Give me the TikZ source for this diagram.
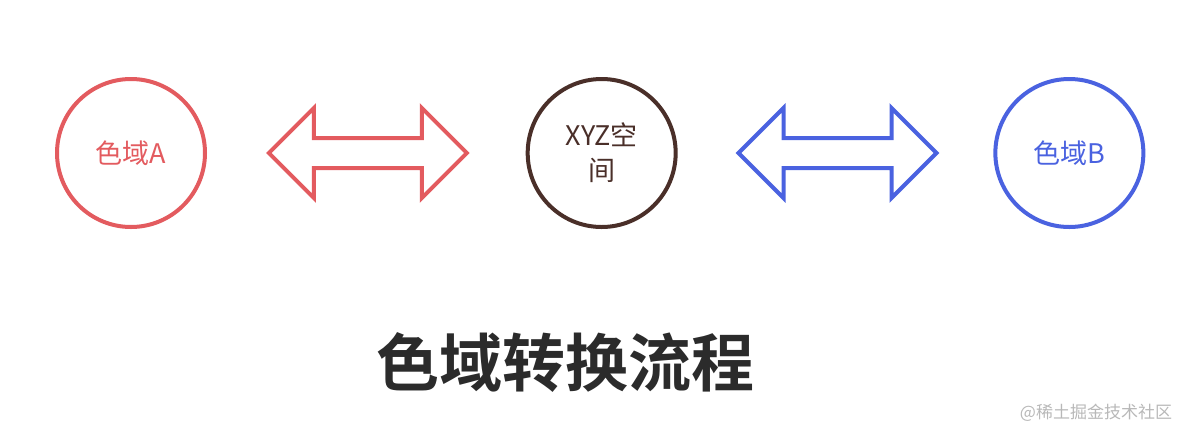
\documentclass[tikz,border=0pt]{standalone}
\usepackage{fontspec}
\newfontfamily\cjk[BoldFont={* Bold}]{Noto Sans CJK SC}
\usepackage{xcolor}
\usepackage{tikz}
\usetikzlibrary{positioning,shapes.arrows}
\definecolor{gamutred}{HTML}{E35B5F}
\definecolor{gamutblue}{HTML}{4A62E0}
\definecolor{xyzbrown}{HTML}{4A2F29}
\definecolor{titlegray}{HTML}{2B2B2B}
\definecolor{markgray}{HTML}{B8B8B8}

\begin{document}
\begin{tikzpicture}[x=1pt, y=-1pt,
				spacenode/.style={circle, draw, line width=4pt, minimum size=148pt, inner sep=0pt, align=center, font=\cjk\fontsize{27}{35}\selectfont},
				swapnode/.style={double arrow, draw, line width=4pt, minimum height=198pt, inner xsep=0pt, inner ysep=13pt, double arrow head extend=30pt, double arrow tip angle=90},
				]
				\useasboundingbox (0,0) rectangle (1194,440);
				%Nodes
				\node[spacenode, draw=gamutred, text=gamutred](gamutA) at (131,153){色域A};
				\node[swapnode, draw=gamutred](swapA)[right=59pt of gamutA]{};
				\node[spacenode, draw=xyzbrown, text=xyzbrown](xyz)[right=56pt of swapA]{XYZ空\\间};
				\node[swapnode, draw=gamutblue](swapB)[right=58pt of xyz]{};
				\node[spacenode, draw=gamutblue, text=gamutblue](gamutB)[right=54pt of swapB]{色域B};
				
				%Title
				\node[text=titlegray, font=\cjk\bfseries\fontsize{63}{63}\selectfont](title) at (565,362){色域转换流程};
				\node[text=markgray, font=\cjk\fontsize{17}{17}\selectfont](mark) at (1096,413){@稀土掘金技术社区};
				
			\end{tikzpicture}
\end{document}
